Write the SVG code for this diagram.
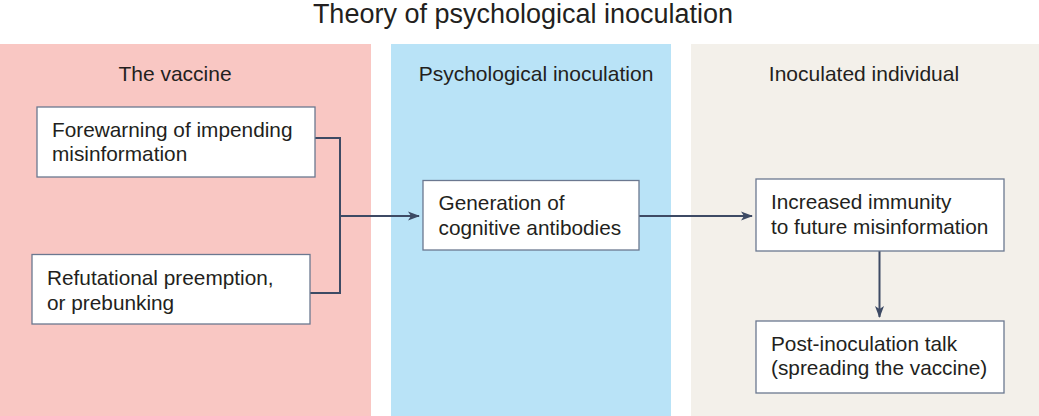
<svg xmlns="http://www.w3.org/2000/svg" width="1039" height="416" viewBox="0 0 1039 416">
<style>
text{font-family:"Liberation Sans",Arial,sans-serif;fill:#231f20}
.title{font-size:27px}
.head{font-size:21px}
.lbl{font-size:20.8px}
.box{fill:#fff;stroke:#6b7890;stroke-width:1.3}
.conn{fill:none;stroke:#3d4a64;stroke-width:2}
</style>
<defs>
<marker id="arr" markerWidth="12" markerHeight="10" refX="11" refY="5" orient="auto" markerUnits="userSpaceOnUse">
<path d="M0,0.5 L12,5 L0,9.5 L3,5 Z" fill="#3d4a64"/>
</marker>
</defs>
<rect width="1039" height="416" fill="#fff"/>
<g id="panels">
<rect x="0" y="44" width="371" height="372" fill="#f9c7c3"/>
<rect x="391" y="44" width="280" height="372" fill="#b9e3f7"/>
<rect x="691" y="44" width="348" height="372" fill="#f3f0ea"/>
</g>
<text class="title" x="523" y="23" text-anchor="middle">Theory of psychological inoculation</text>
<text class="head" x="175" y="81" text-anchor="middle">The vaccine</text>
<text class="head" x="536" y="81" text-anchor="middle">Psychological inoculation</text>
<text class="head" x="864" y="81" text-anchor="middle">Inoculated individual</text>
<g id="connectors">
<path class="conn" d="M315,138 H340 V293 H310"/>
<path class="conn" d="M340,216 H419" marker-end="url(#arr)"/>
<path class="conn" d="M639,216 H752" marker-end="url(#arr)"/>
<path class="conn" d="M879.5,251 V317" marker-end="url(#arr)"/>
</g>
<g id="forewarning">
<rect class="box" x="37" y="107" width="278" height="70"/>
<text class="lbl" x="52" y="137">Forewarning of impending</text>
<text class="lbl" x="52" y="161">misinformation</text>
</g>
<g id="refutational">
<rect class="box" x="32" y="254.5" width="278" height="69.5"/>
<text class="lbl" x="47" y="284.5">Refutational preemption,</text>
<text class="lbl" x="47" y="309.5">or prebunking</text>
</g>
<g id="generation">
<rect class="box" x="423" y="180.5" width="216" height="69.5"/>
<text class="lbl" x="438.5" y="210">Generation of</text>
<text class="lbl" x="438.5" y="235">cognitive antibodies</text>
</g>
<g id="immunity">
<rect class="box" x="756" y="179" width="248" height="72"/>
<text class="lbl" x="771" y="209">Increased immunity</text>
<text class="lbl" x="771" y="233.5">to future misinformation</text>
</g>
<g id="talk">
<rect class="box" x="756" y="321" width="248" height="72"/>
<text class="lbl" x="771" y="350.5">Post-inoculation talk</text>
<text class="lbl" x="771" y="375">(spreading the vaccine)</text>
</g>
</svg>
